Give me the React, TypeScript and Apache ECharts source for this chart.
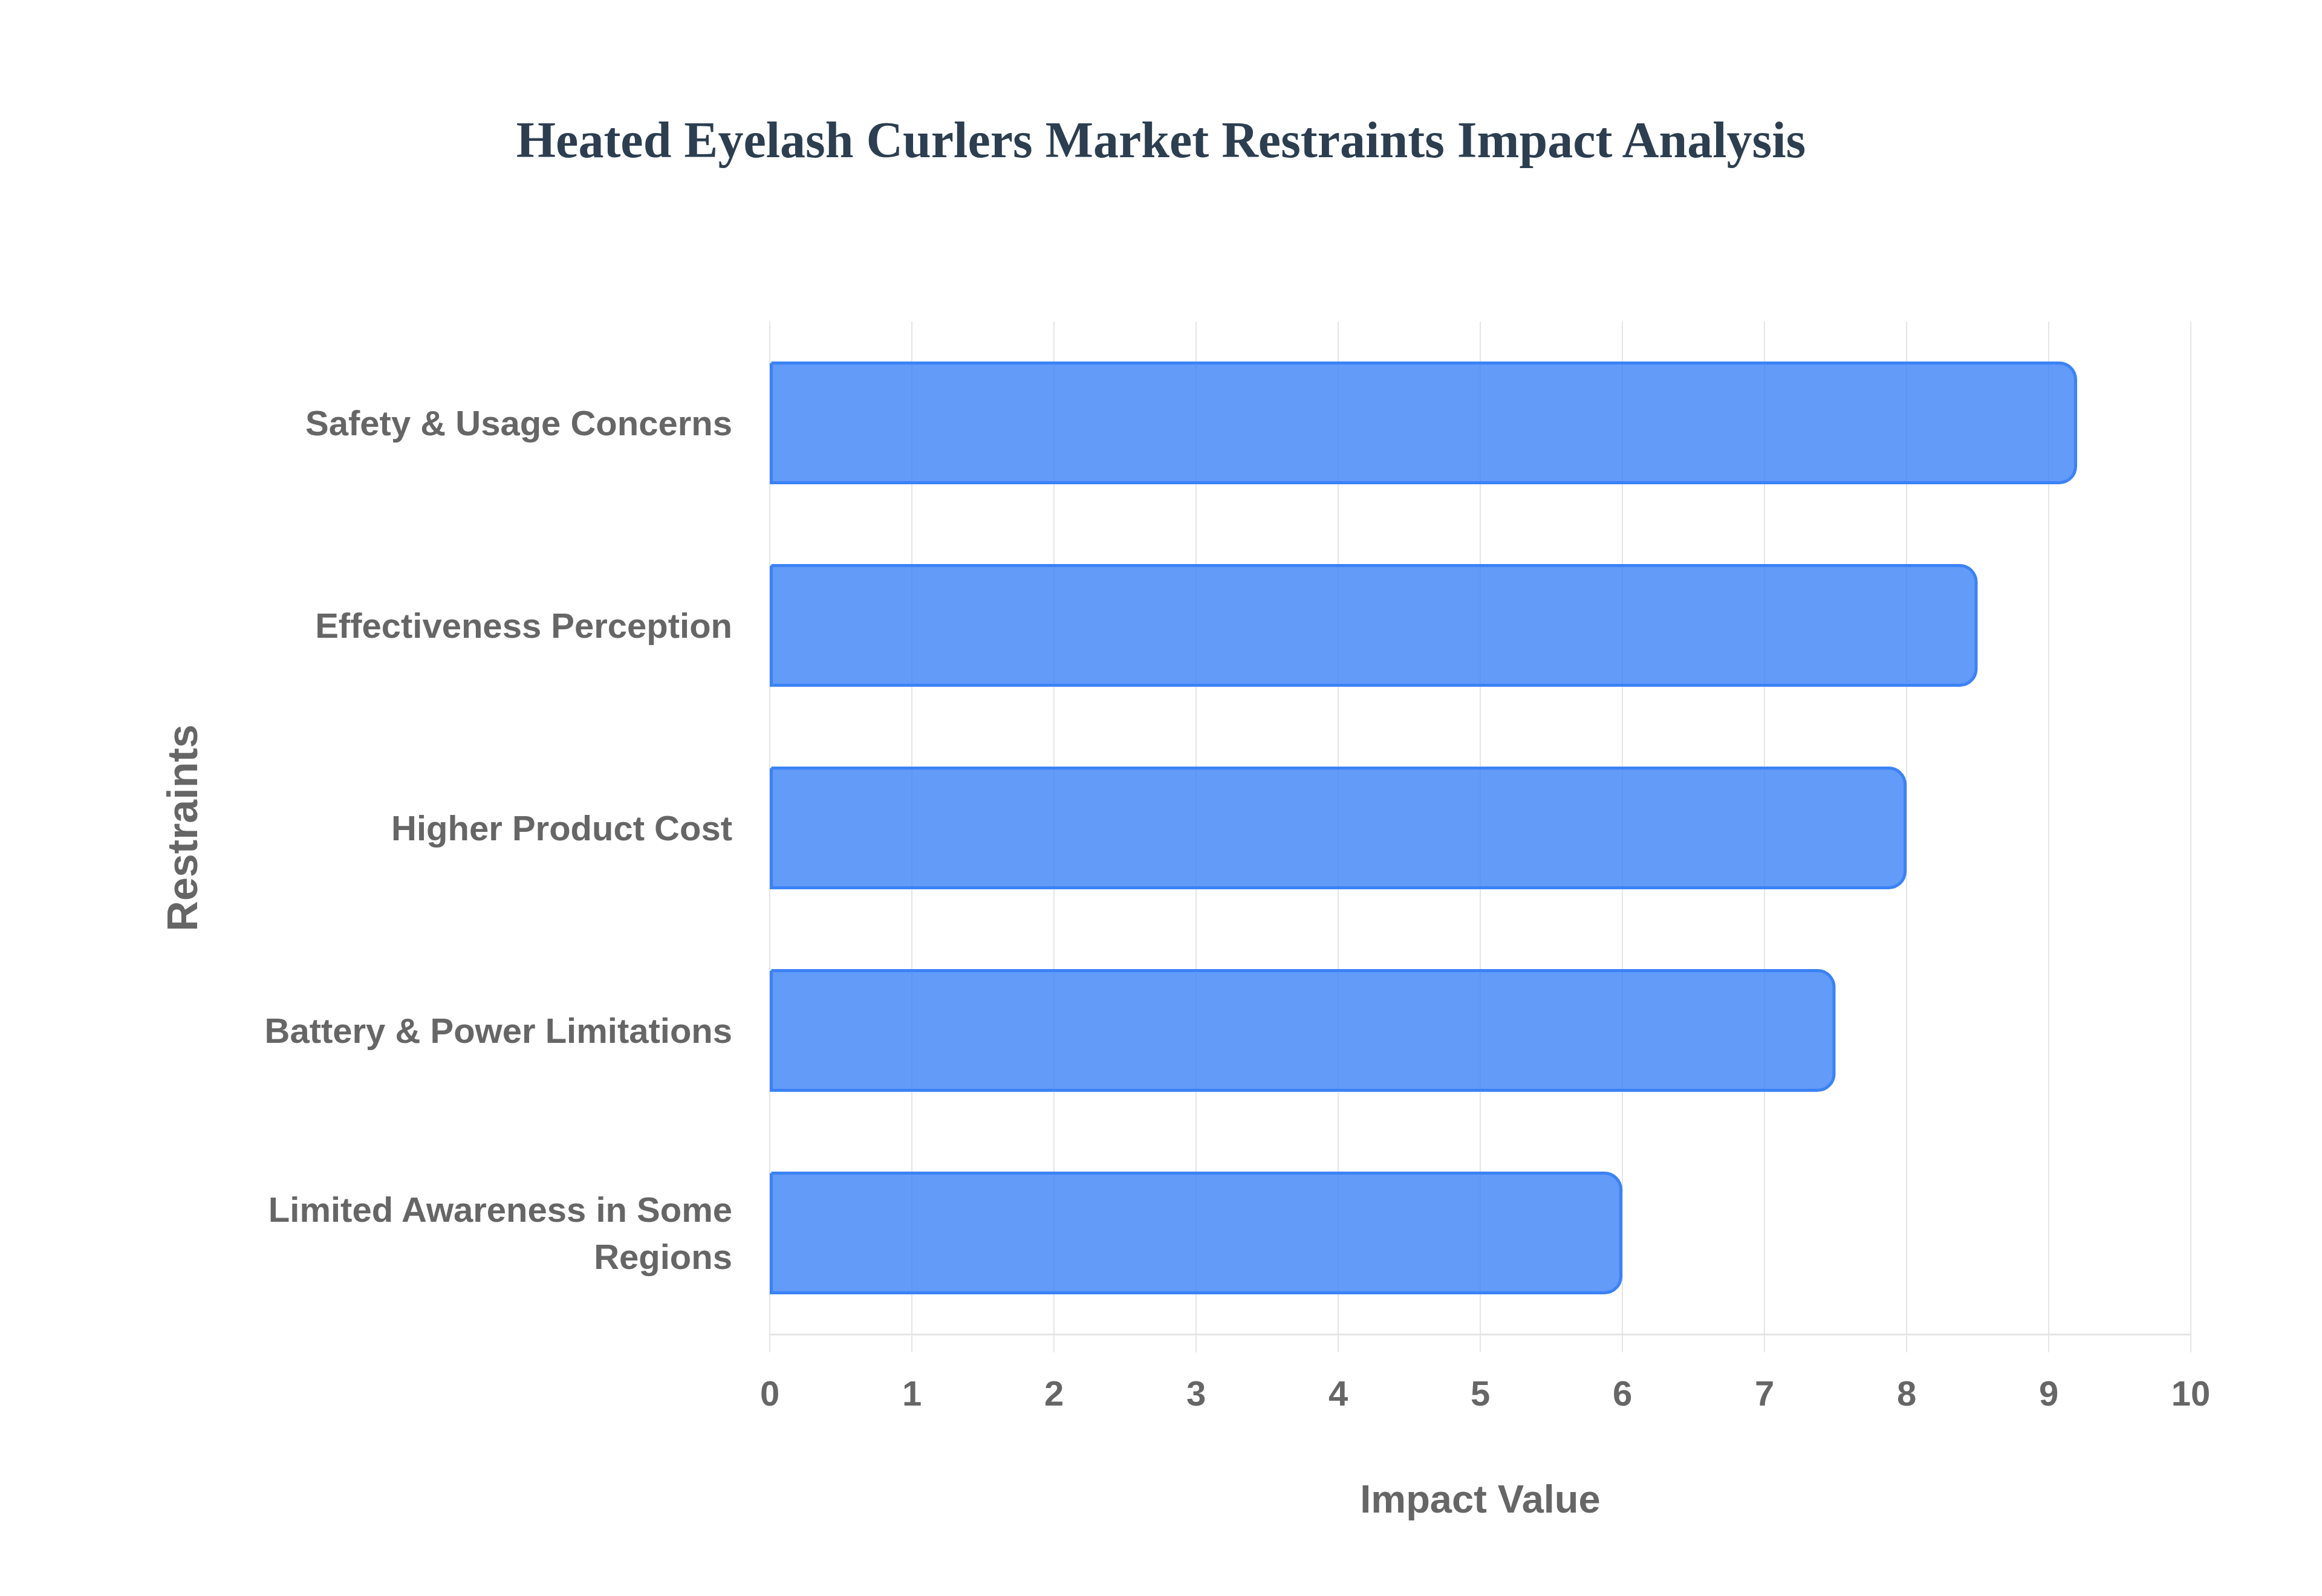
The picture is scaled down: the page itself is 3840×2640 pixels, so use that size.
import { useEffect, useRef } from 'react'
import * as echarts from 'echarts'

const restraints = [
  'Safety & Usage Concerns',
  'Effectiveness Perception',
  'Higher Product Cost',
  'Battery & Power Limitations',
  'Limited Awareness in Some Regions',
]
const impactValues = [9.2, 8.5, 8.0, 7.5, 6.0]
const xTicks = { min: 0, max: 10, interval: 1 }

const SANS = '"Liberation Sans", Arial, Helvetica, sans-serif'
const SERIF = '"Liberation Serif", "Times New Roman", serif'
const LABEL = '#666666'
const GRID = '#e5e5e5'

// wrap long category names the way the reference does (lines up to ~27 chars)
const wrap = (s: string) => {
  const words = s.split(' ')
  const lines: string[] = []
  let cur = ''
  for (const w of words) {
    if (cur && (cur + ' ' + w).length > 28) {
      lines.push(cur)
      cur = w
    } else {
      cur = cur ? cur + ' ' + w : w
    }
  }
  if (cur) lines.push(cur)
  return lines.join('\n')
}

export default function App() {
  const chartRef = useRef<HTMLDivElement | null>(null)

  useEffect(() => {
    if (!chartRef.current) return
    const chart = echarts.init(chartRef.current, null, { renderer: 'svg' })

    chart.setOption({
      animation: false,
      backgroundColor: '#ffffff',
      title: {
        text: 'Heated Eyelash Curlers Market Restraints Impact Analysis',
        left: 'center',
        top: 184,
        textStyle: {
          fontFamily: SERIF,
          fontWeight: 'bold',
          fontSize: 84,
          lineHeight: 84,
          color: '#2c3e50',
        },
      },
      grid: { left: 1273, right: 217, top: 532, bottom: 433 },
      xAxis: {
        type: 'value',
        min: xTicks.min,
        max: xTicks.max,
        interval: xTicks.interval,
        name: 'Impact Value',
        nameLocation: 'middle',
        nameGap: 240,
        nameTextStyle: { fontFamily: SANS, fontWeight: 'bold', fontSize: 65, color: LABEL },
        axisLine: { show: true, lineStyle: { color: GRID, width: 3 } },
        axisTick: { show: true, length: 30, lineStyle: { color: GRID, width: 2 } },
        axisLabel: { margin: 68, fontFamily: SANS, fontWeight: 'bold', fontSize: 58, color: LABEL },
        splitLine: { show: true, lineStyle: { color: GRID, width: 2 } },
      },
      yAxis: {
        type: 'category',
        data: restraints,
        inverse: true,
        name: 'Restraints',
        nameLocation: 'middle',
        nameGap: 936,
        nameTextStyle: { fontFamily: SANS, fontWeight: 'bold', fontSize: 70, color: LABEL },
        axisLine: { show: true, lineStyle: { color: GRID, width: 2 } },
        axisTick: { show: false },
        axisLabel: {
          margin: 62,
          fontFamily: SANS,
          fontWeight: 'bold',
          fontSize: 58,
          lineHeight: 78,
          color: LABEL,
          align: 'right',
          formatter: (v: string) => wrap(v),
        },
        splitLine: { show: false },
      },
      series: [
        {
          type: 'bar',
          data: impactValues,
          barCategoryGap: '39.4%',
          itemStyle: {
            color: 'rgba(59,130,246,0.8)',
            borderColor: '#3b82f6',
            borderWidth: 5,
            borderRadius: [0, 27, 27, 0],
          },
        },
      ],
    })

    return () => chart.dispose()
  }, [])

  return (
    <div
      ref={chartRef}
      style={{ position: 'absolute', left: 0, top: 0, width: 3840, height: 2640 }}
    />
  )
}
